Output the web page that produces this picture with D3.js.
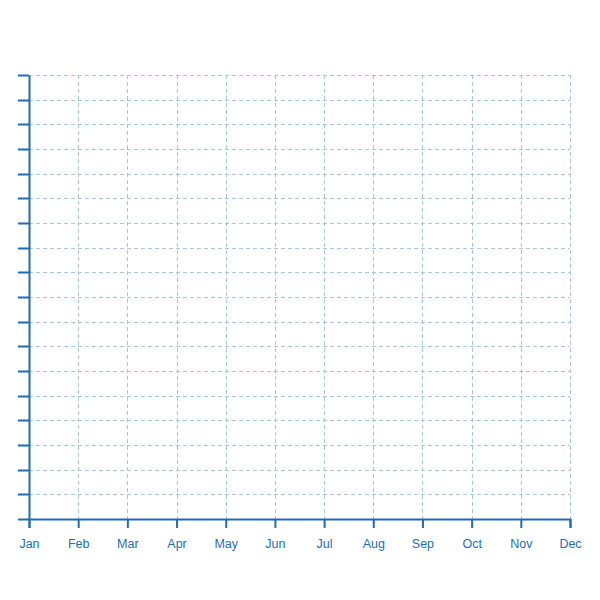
<!DOCTYPE html>
<html>
<head>
<meta charset="utf-8">
<script src="https://cdn.jsdelivr.net/npm/d3@7"></script>
<style>
  body { margin: 0; background: #fff; }
  .grid line { stroke: #a3c9da; stroke-dasharray: 4,3; stroke-width: 1; shape-rendering: crispEdges; }
  .grid .domain { display: none; }
  .axis path, .axis line { stroke: #1f6db3; stroke-width: 2; }
  .axis text { fill: #1f6db3; font-family: "Liberation Sans", Arial, sans-serif; font-size: 12.5px; }
</style>
</head>
<body>
<div id="chart"></div>
<script>
var months = ["Jan", "Feb", "Mar", "Apr", "May", "Jun", "Jul", "Aug", "Sep", "Oct", "Nov", "Dec"];
var yTicks = d3.range(0, 19);   // 18 empty intervals, no labels

var margin = {top: 75, right: 30, bottom: 81, left: 29},
    width = 600 - margin.left - margin.right,
    height = 600 - margin.top - margin.bottom;

var svg = d3.select("#chart").append("svg")
    .attr("width", 600)
    .attr("height", 600)
  .append("g")
    .attr("transform", "translate(" + margin.left + "," + margin.top + ")");

var x = d3.scalePoint()
    .domain(months)
    .range([0, width]);

var y = d3.scaleLinear()
    .domain([0, 18])
    .range([height, 0])
    .interpolate(d3.interpolateRound);

// grid
svg.append("g")
    .attr("class", "grid")
    .call(d3.axisBottom(x).tickSize(height).tickFormat(""))
    .selectAll("line").filter(function(d, i) { return i === 0; }).remove();

svg.append("g")
    .attr("class", "grid")
    .call(d3.axisLeft(y).tickValues(yTicks).tickSize(-width).tickFormat(""))
    .selectAll("line").filter(function(d) { return d === 0; }).remove();

// axes
svg.append("g")
    .attr("class", "axis")
    .attr("transform", "translate(0," + height + ")")
    .call(d3.axisBottom(x).tickSize(9).tickSizeOuter(9).tickPadding(11));

svg.append("g")
    .attr("class", "axis")
    .call(d3.axisLeft(y).tickValues(yTicks).tickSize(11).tickSizeOuter(0).tickFormat(""));
</script>
</body>
</html>
